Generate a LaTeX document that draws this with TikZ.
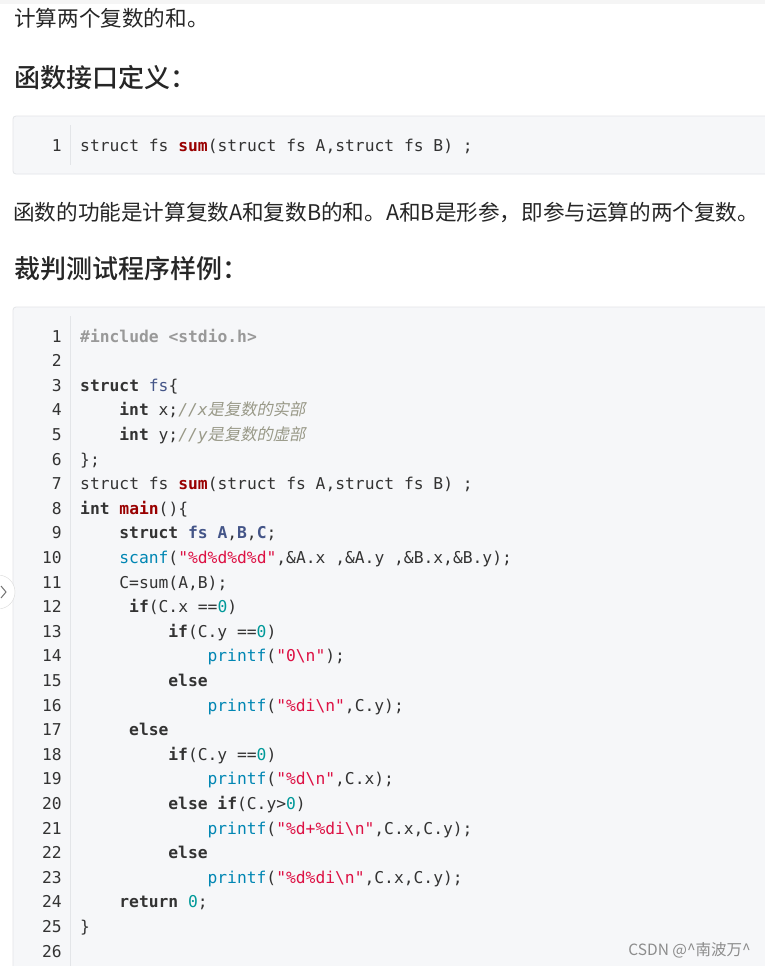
\documentclass[tikz,border=0pt]{standalone}
\usepackage{fontspec}
\setmainfont{Noto Sans CJK SC}
\setmonofont{DejaVu Sans Mono}
\newfontfamily\cjkit{Noto Sans CJK SC}[FakeSlant=0.2]
\newfontfamily\cjkmed{Noto Sans CJK SC Medium}
\definecolor{boxbg}{HTML}{F6F7F9}
\definecolor{boxln}{HTML}{E3E5E8}
\definecolor{codefg}{HTML}{333333}
\definecolor{kwc}{HTML}{333333}
\definecolor{tyc}{HTML}{445588}
\definecolor{fnc}{HTML}{990000}
\definecolor{bic}{HTML}{0086B3}
\definecolor{strc}{HTML}{DD1144}
\definecolor{numc}{HTML}{009999}
\definecolor{cmc}{HTML}{999988}
\definecolor{inc}{HTML}{999999}
\newcommand\kw[1]{\textbf{\color{kwc}#1}}
\newcommand\ty[1]{\textcolor{tyc}{#1}}
\newcommand\tyb[1]{\textbf{\color{tyc}#1}}
\newcommand\fn[1]{\textbf{\color{fnc}#1}}
\newcommand\bi[1]{\textcolor{bic}{#1}}
\newcommand\str[1]{\textcolor{strc}{#1}}
\newcommand\nm[1]{\textcolor{numc}{#1}}
\newcommand\cm[2]{{\color{cmc}\itshape #1\cjkit #2}}
\newcommand\bs{\textbackslash}
\begin{document}
\begin{tikzpicture}[x=1pt,y=-1pt,
  code/.style={anchor=base west,inner sep=0pt,font=\fontsize{16.3}{18}\ttfamily,text=codefg},
  lnum/.style={anchor=base east,inner sep=0pt,font=\fontsize{16.3}{18}\ttfamily,text=codefg},
  body/.style={anchor=base west,inner sep=0pt,font=\fontsize{21.6}{24}\selectfont,text=black!85},
  head/.style={anchor=base west,inner sep=0pt,font=\fontsize{26}{28}\cjkmed,text=black!85},
  cbox/.style={fill=boxbg,draw=boxln,rounded corners=3pt,line width=0.8pt}]
\useasboundingbox (0,0) rectangle (765,966);
\fill[white] (0,0) rectangle (765,966);
\fill[black!4] (0,0) rectangle (765,4);
\node[body] (t1) at (14,27) {计算两个复数的和。};
\node[head] (h1) at (14,88) {函数接口定义：};
\draw[cbox] (13,116) rectangle (775,174);
\draw[boxln,line width=1pt] (70,125) -- (70,165);
\node[lnum] (n0) at (62,151) {1};
\node[code] (c0) at (80,151) {struct fs \fn{sum}(struct fs A,struct fs B) ;};
\node[body] (p1) at (13,220) {函数的功能是计算复数A和复数B的和。A和B是形参，即参与运算的两个复数。};
\node[head] (h2) at (14,278) {裁判测试程序样例：};
\draw[cbox] (13,307) rectangle (775,980);
\draw[boxln,line width=1pt] (70,316) -- (70,966);
\foreach \i in {1,...,26} {\node[lnum] (ln\i) at (62,{342+(\i-1)*24.6}) {\i};}
\def\L#1#2#3{\node[code] (cl#1) at ({80+#2*9.8},{342+(#1-1)*24.6}) {#3};}
\L{1}{0}{\textbf{\color{inc}\#include <stdio.h>}}
\L{3}{0}{\kw{struct} \ty{fs}\{}
\L{4}{4}{\kw{int} x;\cm{//x}{是复数的实部}}
\L{5}{4}{\kw{int} y;\cm{//y}{是复数的虚部}}
\L{6}{0}{\};}
\L{7}{0}{struct fs \fn{sum}(struct fs A,struct fs B) ;}
\L{8}{0}{\kw{int} \fn{main}()\{}
\L{9}{4}{\kw{struct} \tyb{fs A},\tyb{B},\tyb{C};}
\L{10}{4}{\bi{scanf}(\str{"\%d\%d\%d\%d"},\&A.x ,\&A.y ,\&B.x,\&B.y);}
\L{11}{4}{C=sum(A,B);}
\L{12}{5}{\kw{if}(C.x ==\nm{0})}
\L{13}{9}{\kw{if}(C.y ==\nm{0})}
\L{14}{13}{\bi{printf}(\str{"0\bs n"});}
\L{15}{9}{\kw{else}}
\L{16}{13}{\bi{printf}(\str{"\%di\bs n"},C.y);}
\L{17}{5}{\kw{else}}
\L{18}{9}{\kw{if}(C.y ==\nm{0})}
\L{19}{13}{\bi{printf}(\str{"\%d\bs n"},C.x);}
\L{20}{9}{\kw{else} \kw{if}(C.y>\nm{0})}
\L{21}{13}{\bi{printf}(\str{"\%d+\%di\bs n"},C.x,C.y);}
\L{22}{9}{\kw{else}}
\L{23}{13}{\bi{printf}(\str{"\%d\%di\bs n"},C.x,C.y);}
\L{24}{4}{\kw{return} \nm{0};}
\L{25}{0}{\}}
\draw[fill=white,draw=black!15] (-2,592) circle (17);
\draw[black!55,line width=1pt] (1,586) -- (6,592) -- (1,598);
\node[anchor=base east,inner sep=0pt,font=\fontsize{15.5}{16}\selectfont,text=black!45] (wm) at (751,955) {CSDN @\textasciicircum 南波万\textasciicircum};
\end{tikzpicture}
\end{document}
